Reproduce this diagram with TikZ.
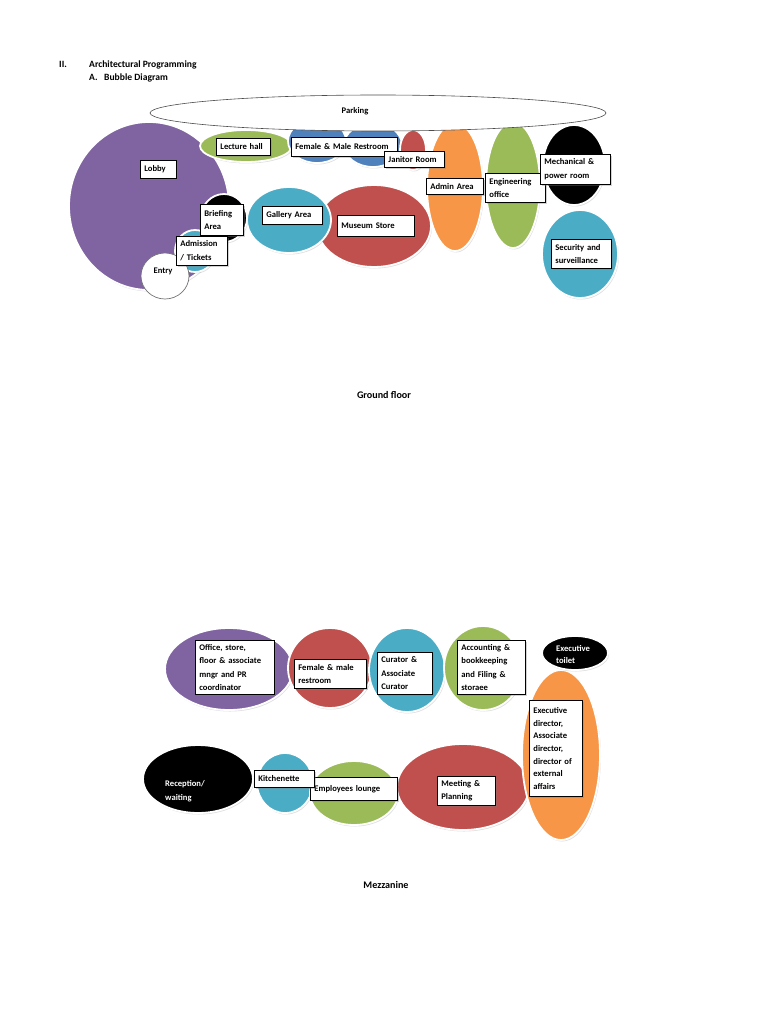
\documentclass[tikz,border=0pt]{standalone}
\usepackage{fontspec}
\setmainfont{Carlito}
\usetikzlibrary{shapes.geometric,shadows}
\definecolor{bpurple}{HTML}{8064A2}
\definecolor{bgreen}{HTML}{9BBB59}
\definecolor{bblue}{HTML}{4F81BD}
\definecolor{bred}{HTML}{C0504D}
\definecolor{borange}{HTML}{F79646}
\definecolor{baqua}{HTML}{4BACC6}
\begin{document}
\begin{tikzpicture}[x=1pt,y=-1pt,
  bub/.style={ellipse,draw=white,line width=1.8pt,inner sep=0pt,
    drop shadow={opacity=0.25,shadow xshift=1pt,shadow yshift=-1.5pt}},
  lbl/.style={draw,fill=white,line width=0.8pt,anchor=north west,align=left,
    inner xsep=4pt,inner ysep=0pt,font=\bfseries\fontsize{8.6}{13.5}\selectfont,
    drop shadow={opacity=0.35,shadow xshift=1.2pt,shadow yshift=-1.2pt}},
  head/.style={anchor=base west,inner sep=0pt,font=\bfseries\fontsize{9.6}{12}\selectfont},
  txt/.style={inner sep=0pt,font=\bfseries\fontsize{8.6}{13.5}\selectfont}]
\useasboundingbox (0,0) rectangle (768,1024);

\node[head] (secno) at (59,68) {II.};
\node[head] (sectitle) at (89,68) {Architectural Programming};
\node[head] (subno) at (89,81) {A.};
\node[head] (subtitle) at (104,81) {Bubble Diagram};

\node[bub,fill=bpurple,minimum width=160pt,minimum height=168pt] (lobby) at (149,206) {};
\node[bub,fill=bgreen,minimum width=92pt,minimum height=32pt] (lecture) at (246,146) {};
\node[bub,fill=bblue,minimum width=58pt,minimum height=44pt] (rest1) at (317,141) {};
\node[bub,fill=bblue,minimum width=58pt,minimum height=44pt] (rest2) at (373,145) {};
\node[bub,fill=bred,minimum width=26pt,minimum height=40pt] (janitor) at (413,150) {};
\node[bub,fill=borange,minimum width=56pt,minimum height=128pt] (admin) at (455,187) {};
\node[bub,fill=bgreen,minimum width=54pt,minimum height=126pt] (eng) at (513,185) {};
\node[bub,fill=black,minimum width=62pt,minimum height=80pt] (mech) at (574,165) {};
\node[ellipse,draw=black!70,fill=white,line width=0.6pt,inner sep=0pt,
  minimum width=456pt,minimum height=36pt] (parking) at (378,113) {};
\node[bub,fill=baqua,minimum width=76pt,minimum height=88pt] (secu) at (580,254) {};
\node[bub,fill=bred,minimum width=114pt,minimum height=82pt] (museum) at (374,226) {};
\node[bub,fill=baqua,minimum width=84pt,minimum height=66pt] (gallery) at (289,220) {};
\node[bub,fill=baqua,minimum width=40pt,minimum height=42pt] (admis) at (195,251) {};
\node[bub,fill=black,minimum width=46pt,minimum height=48pt] (brief) at (224,218) {};
\node[ellipse,draw=black!55,fill=white,line width=0.7pt,inner sep=0pt,
  minimum width=48pt,minimum height=46pt] (entry) at (165,276) {};

\node[txt] (parkl) at (355,111) {Parking};
\node[txt] (entryl) at (163,271) {Entry};
\node[lbl,text width=28pt,minimum height=18pt] (lobbyl) at (140,160) {Lobby};
\node[lbl,text width=46pt,minimum height=17pt] (lecturel) at (216,138) {Lecture hall};
\node[lbl,text width=98pt,minimum height=19pt] (restl) at (291,137) {Female \& Male Restroom};
\node[lbl,text width=52pt,minimum height=16pt] (janitorl) at (384,151) {Janitor Room};
\node[lbl,text width=49pt,minimum height=16pt] (adminl) at (426,178) {Admin Area};
\node[lbl,text width=52pt,minimum height=29pt] (engl) at (485,173) {Engineering\\office};
\node[lbl,text width=62pt,minimum height=30pt] (mechl) at (540,154) {Mechanical \&\\power room};
\node[lbl,text width=52pt,minimum height=29pt] (secul) at (551,239) {Security and\\surveillance};
\node[lbl,text width=69pt,minimum height=21pt] (museuml) at (337,215) {Museum Store};
\node[lbl,text width=52pt,minimum height=18pt] (galleryl) at (262,206) {Gallery Area};
\node[lbl,text width=35pt,minimum height=31pt] (briefl) at (200,204) {Briefing\\Area};
\node[lbl,text width=43pt,minimum height=29pt] (admisl) at (176,236) {Admission\\/ Tickets};

\node[txt,font=\bfseries\fontsize{10.1}{12}\selectfont,anchor=base] (groundt) at (384,398) {Ground floor};

\node[bub,fill=bpurple,minimum width=128pt,minimum height=82pt] (office) at (229,669) {};
\node[bub,fill=bred,minimum width=84pt,minimum height=80pt] (mrest) at (330,668) {};
\node[bub,fill=baqua,minimum width=76pt,minimum height=84pt] (curator) at (407,670) {};
\node[bub,fill=bgreen,minimum width=78pt,minimum height=84pt] (acct) at (483,668) {};
\node[bub,fill=black,minimum width=110pt,minimum height=68pt] (recep) at (198,779) {};
\node[bub,fill=baqua,minimum width=56pt,minimum height=60pt] (kitchen) at (285,783) {};
\node[bub,fill=bgreen,minimum width=88pt,minimum height=64pt] (lounge) at (354,793) {};
\node[bub,fill=bred,minimum width=132pt,minimum height=86pt] (meeting) at (463,787) {};
\node[bub,fill=borange,minimum width=78pt,minimum height=170pt] (execdir) at (561,755) {};
\node[bub,fill=black,minimum width=66pt,minimum height=34pt] (toilet) at (575,653) {};

\node[txt,text=white,anchor=west,align=left,font=\bfseries\fontsize{8.6}{12}\selectfont] (toiletl) at (556,655) {Executive\\toilet};
\node[txt,text=white,anchor=west,align=left] (recepl) at (165,791) {Reception/\\waiting};
\node[lbl,text width=71pt,minimum height=54pt] (officel) at (195,640) {Office, store,\\floor \& associate\\mngr and PR\\coordinator};
\node[lbl,text width=64pt,minimum height=29pt] (mrestl) at (294,659) {Female \& male\\restroom};
\node[lbl,text width=47pt,minimum height=42pt] (curatorl) at (377,652) {Curator \&\\Associate\\Curator};
\node[lbl,text width=60pt,minimum height=54pt] (acctl) at (457,640) {Accounting \&\\bookkeeping\\and Filing \&\\storaee};
\node[lbl,text width=45pt,minimum height=96pt,font=\bfseries\fontsize{8.6}{12.6}\selectfont] (execdirl) at (529,700) {Executive\\director,\\Associate\\director,\\director of\\external\\affairs};
\node[lbl,text width=50pt,minimum height=29pt] (meetingl) at (437,776) {Meeting \&\\Planning};
\node[lbl,text width=79pt,minimum height=23pt] (loungel) at (310,777) {Employees lounge};
\node[lbl,text width=52pt,minimum height=17pt] (kitchenl) at (254,770) {Kitchenette};

\node[txt,font=\bfseries\fontsize{10.1}{12}\selectfont,anchor=base] (mezzt) at (386,888) {Mezzanine};
\end{tikzpicture}
\end{document}
